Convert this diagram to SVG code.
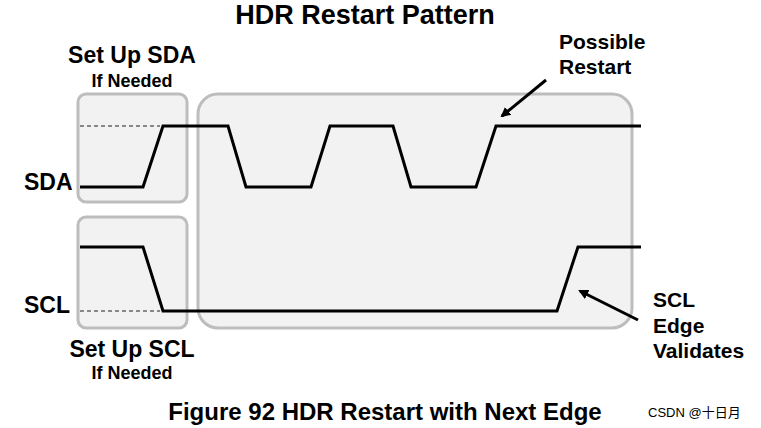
<svg xmlns="http://www.w3.org/2000/svg" width="761" height="428" viewBox="0 0 761 428">
<style>
.box{fill:#f2f2f2;stroke:#bdbdbd;stroke-width:3}
.sig{fill:none;stroke:#000;stroke-width:3}
.dash{fill:none;stroke:#888;stroke-width:2;stroke-dasharray:4 3}
text{font-family:"Liberation Sans",Arial,sans-serif;font-weight:bold;fill:#000}
.l{font-size:23px}.s{font-size:18px}.m{font-size:21px}
</style>
<defs><marker id="ah" markerWidth="10" markerHeight="10" refX="8" refY="5" orient="auto" markerUnits="userSpaceOnUse"><path d="M0,0 L10,5 L0,10 z" fill="#000"/></marker></defs>
<rect width="761" height="428" fill="#fff"/>
<text x="365" y="24" font-size="27" text-anchor="middle">HDR Restart Pattern</text>
<g id="boxSDA"><rect class="box" x="78" y="94" width="109" height="108" rx="8"/></g>
<g id="boxSCL"><rect class="box" x="78" y="217" width="109" height="111" rx="8"/></g>
<g id="boxMain"><rect class="box" x="198" y="94" width="434" height="234" rx="20"/></g>
<g id="signals">
<path class="dash" d="M80,126 H160"/>
<path class="dash" d="M80,311 H160"/>
<path class="sig" d="M80,187 H143 L163,126 H228 L246,187 H311 L330,126 H393 L411,187 H476 L496,126 H641"/>
<path class="sig" d="M80,247 H143 L163,311 H557 L578,247 H641"/>
</g>
<g id="connectors">
<line x1="546" y1="80" x2="502" y2="116" stroke="#000" stroke-width="3" marker-end="url(#ah)"/>
<line x1="638" y1="320" x2="580" y2="291" stroke="#000" stroke-width="3" marker-end="url(#ah)"/>
</g>
<text class="l" x="24" y="190">SDA</text>
<text class="l" x="24" y="313">SCL</text>
<text class="l" x="132" y="63" text-anchor="middle">Set Up SDA</text>
<text class="s" x="132" y="87" text-anchor="middle">If Needed</text>
<text class="l" x="132" y="357" text-anchor="middle">Set Up SCL</text>
<text class="s" x="132" y="379" text-anchor="middle">If Needed</text>
<text class="m" x="559" y="49">Possible</text>
<text class="m" x="559" y="74">Restart</text>
<text class="m" x="653" y="307">SCL</text>
<text class="m" x="653" y="333">Edge</text>
<text class="m" x="653" y="358">Validates</text>
<text x="385" y="420" font-size="24" text-anchor="middle">Figure 92 HDR Restart with Next Edge</text>
<text x="648" y="417" font-size="13" style="font-weight:normal;font-family:'Liberation Sans','Noto Sans CJK SC',sans-serif" fill="#999">CSDN @十日月</text>
</svg>
